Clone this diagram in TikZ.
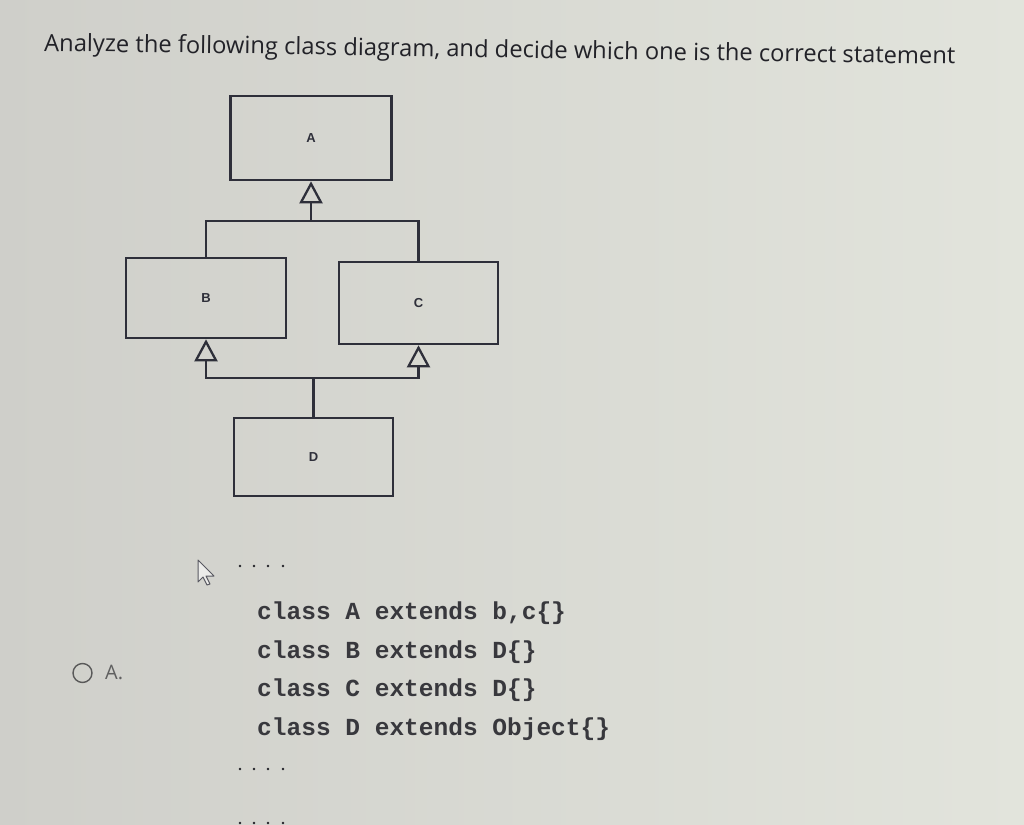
\documentclass[tikz,border=0pt]{standalone}
\usepackage{fontspec}
\setmainfont{Open Sans}
\newfontfamily\labfont{Liberation Sans}
\newfontfamily\codefont{Liberation Mono}
\usetikzlibrary{arrows.meta}
\definecolor{bgleft}{HTML}{CFCFCA}
\definecolor{bgright}{HTML}{E2E4DC}
\definecolor{ink}{HTML}{2E2F3A}
\definecolor{txt}{HTML}{222228}
\tikzset{
  classbox/.style={draw=ink, line width=2.6pt, fill=none, font=\labfont\bfseries\fontsize{13}{15}\selectfont, text=ink},
  conn/.style={draw=ink, line width=2.6pt},
  gen/.style={conn, -{Triangle[open, width=23pt, length=22pt, line width=2.3pt]}},
  codeline/.style={anchor=base west, font=\codefont\bfseries\fontsize{24.5}{28}\selectfont, text=txt!90!white, inner sep=0pt},
}
\begin{document}
\begin{tikzpicture}[x=1pt,y=-1pt]
\useasboundingbox (0,0) rectangle (1024,824);
\shade[left color=bgleft, right color=bgright] (0,0) rectangle (1024,824);
% title
\node[anchor=base west, inner sep=0pt, rotate=-0.82, text=txt, font=\fontsize{23.7}{28}\selectfont] (title) at (44,51)
  {Analyze the following class diagram, and decide which one is the correct statement};
% classes
\node[classbox, minimum width=161pt, minimum height=84pt] (A) at (311,138) {A};
\node[classbox, minimum width=160pt, minimum height=80pt] (B) at (206,298) {B};
\node[classbox, minimum width=159pt, minimum height=82pt] (C) at (418.5,303) {C};
\node[classbox, minimum width=159pt, minimum height=78pt] (D) at (313.5,457) {D};
% generalisations
\coordinate (j1) at (311,221);
\draw[gen] (j1) -- (A.south);
\draw[conn] (B.north) |- (j1) -| (C.north);
\coordinate (j2) at (313.5,378);
\draw[conn] (D.north) -- (j2);
\draw[gen] (j2) -| (B.south);
\draw[gen] (j2) -| (C.south);
% cursor
\draw[ink!80, line width=1pt, fill=white!60!bgleft, line join=round]
  (198,560) -- (198,582) -- (203,577) -- (207,585) -- (210,584) -- (206,576) -- (214,576) -- cycle;
% dots
\foreach \dx in {240,254,268,283} {
  \fill[txt] (\dx,566) circle (1.3pt);
  \fill[txt] (\dx,769) circle (1.3pt);
  \fill[txt] (\dx,823) circle (1.3pt);
}
% radio option
\node[draw=gray!70!black, line width=1.4pt, circle, minimum size=19pt, inner sep=0pt] (radio) at (82.5,673) {};
\node[anchor=base west, inner sep=0pt, text=gray!75!black, font=\fontsize{20}{24}\selectfont] (optA) at (105,679) {A.};
% code
\node[codeline] (l1) at (257,619) {class A extends b,c\{\}};
\node[codeline] (l2) at (257,658) {class B extends D\{\}};
\node[codeline] (l3) at (257,696) {class C extends D\{\}};
\node[codeline] (l4) at (257,735) {class D extends Object\{\}};
\end{tikzpicture}
\end{document}
